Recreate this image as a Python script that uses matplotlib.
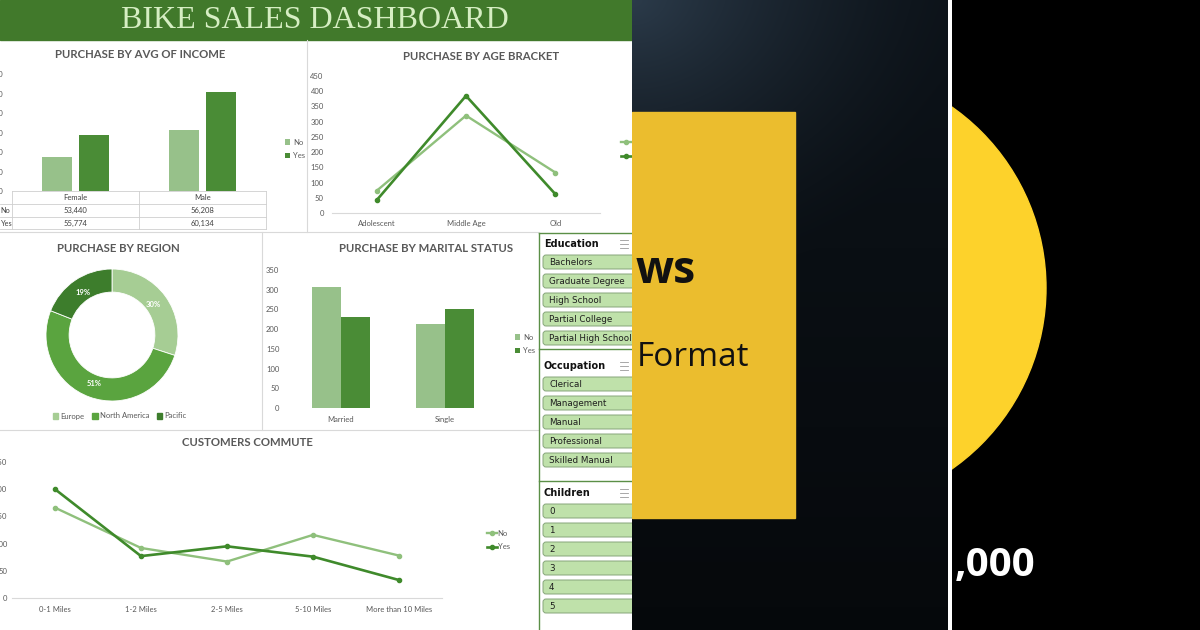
import numpy as np
import matplotlib
matplotlib.use("Agg")
import matplotlib.pyplot as plt
from matplotlib.patches import Rectangle, FancyBboxPatch, Circle, Patch
from matplotlib.ticker import FuncFormatter

plt.rcParams["font.family"] = ["Lato", "DejaVu Sans"]

W, H = 1200, 630

# ---- data ----
genders = ["Female", "Male"]
income_no = [53440, 56208]
income_yes = [55774, 60134]

age_brackets = ["Adolescent", "Middle Age", "Old"]
age_no = [73, 320, 133]
age_yes = [42, 385, 62]

regions = ["Europe", "North America", "Pacific"]
region_share = [30, 51, 19]

marital = ["Married", "Single"]
marital_no = [308, 212]
marital_yes = [232, 252]

commute = ["0-1 Miles", "1-2 Miles", "2-5 Miles", "5-10 Miles", "More than 10 Miles"]
commute_no = [166, 92, 67, 116, 78]
commute_yes = [200, 77, 95, 76, 33]

education = ["Bachelors", "Graduate Degree", "High School", "Partial College", "Partial High School"]
occupation = ["Clerical", "Management", "Manual", "Professional", "Skilled Manual"]
children = ["0", "1", "2", "3", "4", "5"]

BAR_NO, BAR_YES = "#97c18a", "#4a8c36"
LINE_NO, LINE_YES = "#8fc07c", "#3f8a2b"
REGION_COLORS = ["#a6cd94", "#5aa43f", "#3d7d2c"]
GREEN = "#41792b"
GRID = "#d9d9d9"
TXT = "#595959"


def px_axes(x0, y0, x1, y1, **kw):
    return fig.add_axes([x0 / W, 1 - y1 / H, (x1 - x0) / W, (y1 - y0) / H], **kw)


def fpt(x, y):
    return (x / W, 1 - y / H)


def style_axes(ax, baseline=False):
    for s in ax.spines.values():
        s.set_visible(False)
    if baseline:
        ax.spines["bottom"].set_visible(True)
        ax.spines["bottom"].set_color(GRID)
    ax.tick_params(length=0, labelsize=5.5, colors=TXT)
    ax.set_facecolor("none")


def title(x, y, s):
    fig.text(x / W, 1 - y / H, s, ha="center", va="center", fontsize=8.2,
             fontweight="bold", color=TXT)


fig = plt.figure(figsize=(12, 6.3), dpi=100)
fig.patch.set_facecolor("white")

bg = fig.add_axes([0, 0, 1, 1], zorder=0)
bg.set_xlim(0, W)
bg.set_ylim(H, 0)
bg.axis("off")

# title bar
bg.add_patch(Rectangle((0, 0), 632, 40, color=GREEN))
bg.text(315, 21, "BIKE SALES DASHBOARD", ha="center", va="center", fontsize=23,
        family="Liberation Serif", color="#d6eec3")

# panel dividers
for xs, ys in [((307, 307), (40, 232)), ((0, 538), (232, 232)), ((262, 262), (232, 430)),
               ((0, 538), (430, 430))]:
    bg.plot(xs, ys, color=GRID, lw=0.8)

# ---- purchase by avg of income ----
ax1 = px_axes(12, 74, 266, 191, zorder=1)
x = np.arange(len(genders))
ax1.bar(x - 0.145, income_no, 0.23, color=BAR_NO, label="No")
ax1.bar(x + 0.145, income_yes, 0.23, color=BAR_YES, label="Yes")
ax1.set_xlim(-0.5, 1.5)
ax1.set_ylim(50000, 62000)
ax1.set_yticks(range(50000, 62001, 2000))
ax1.yaxis.set_major_formatter(FuncFormatter(lambda v, p: f"{v:,.0f}"))
ax1.set_xticks([])
style_axes(ax1)
ax1.tick_params(axis="y", pad=6)
ax1.legend(loc="center left", bbox_to_anchor=fpt(278, 149), bbox_transform=fig.transFigure,
           frameon=False, fontsize=5.5, handlelength=0.7, handleheight=0.7,
           handletextpad=0.4, labelspacing=0.9, labelcolor=TXT)
title(140, 55, "PURCHASE BY AVG OF INCOME")

# data table under the income chart
bg.plot((12, 266), (191, 191), color="#cfcfcf", lw=0.6)
for yy in (204, 217, 229):
    bg.plot((0, 266), (yy, yy), color="#cfcfcf", lw=0.6)
for xx in (12, 139, 266):
    bg.plot((xx, xx), (191, 229), color="#cfcfcf", lw=0.6)
for i, g in enumerate(genders):
    cx = 12 + 127 * (i + 0.5)
    bg.text(cx, 197.5, g, ha="center", va="center", fontsize=5.5, color="#404040")
    bg.text(cx, 210.5, f"{income_no[i]:,}", ha="center", va="center", fontsize=5.5, color="#404040")
    bg.text(cx, 223, f"{income_yes[i]:,}", ha="center", va="center", fontsize=5.5, color="#404040")
bg.text(0.5, 210.5, "No", ha="left", va="center", fontsize=5.3, color="#404040")
bg.text(0.5, 223, "Yes", ha="left", va="center", fontsize=5.3, color="#404040")

# ---- purchase by age bracket ----
ax2 = px_axes(332, 76, 600, 213, zorder=1)
xa = np.arange(len(age_brackets))
ax2.plot(xa, age_no, color=LINE_NO, lw=1.7, marker="o", ms=3, label="No")
ax2.plot(xa, age_yes, color=LINE_YES, lw=1.9, marker="o", ms=3, label="Yes")
ax2.set_xlim(-0.5, 2.5)
ax2.set_ylim(0, 450)
ax2.set_yticks(range(0, 451, 50))
ax2.set_xticks(xa, age_brackets)
style_axes(ax2, baseline=True)
ax2.tick_params(axis="y", pad=6)
ax2.tick_params(axis="x", pad=5)
ax2.legend(loc="center left", bbox_to_anchor=fpt(614, 149), bbox_transform=fig.transFigure,
           frameon=False, fontsize=5.5, handlelength=1.3, handletextpad=0.3,
           labelspacing=0.9, labelcolor=TXT)
title(481, 56, "PURCHASE BY AGE BRACKET")

# ---- purchase by region (donut) ----
ax3 = px_axes(46, 269, 178, 401, zorder=1)
ax3.pie(region_share, colors=REGION_COLORS, startangle=90, counterclock=False,
        autopct="%d%%", pctdistance=0.78,
        wedgeprops=dict(width=0.35, edgecolor="white", linewidth=0.6),
        textprops=dict(color="white", fontsize=5.5, fontweight="bold"))
ax3.set_xlim(-1.0, 1.0)
ax3.set_ylim(-1.0, 1.0)
ax3.set_aspect("equal")
fig.legend([Patch(color=c) for c in REGION_COLORS], regions, loc="center",
           bbox_to_anchor=fpt(120, 416), ncol=3, frameon=False, fontsize=5.5,
           handlelength=0.7, handleheight=0.7, handletextpad=0.3, columnspacing=1.0,
           labelcolor=TXT)
title(118, 249, "PURCHASE BY REGION")

# ---- purchase by marital status ----
ax4 = px_axes(289, 270, 497, 408, zorder=1)
xm = np.arange(len(marital))
ax4.bar(xm - 0.14, marital_no, 0.28, color=BAR_NO, label="No")
ax4.bar(xm + 0.14, marital_yes, 0.28, color=BAR_YES, label="Yes")
ax4.set_xlim(-0.5, 1.5)
ax4.set_ylim(0, 350)
ax4.set_yticks(range(0, 351, 50))
ax4.set_xticks(xm, marital)
style_axes(ax4)
ax4.tick_params(axis="y", pad=7)
ax4.tick_params(axis="x", pad=6)
ax4.legend(loc="center left", bbox_to_anchor=fpt(508, 344), bbox_transform=fig.transFigure,
           frameon=False, fontsize=5.5, handlelength=0.7, handleheight=0.7,
           handletextpad=0.4, labelspacing=0.9, labelcolor=TXT)
title(426, 249, "PURCHASE BY MARITAL STATUS")

# ---- customers commute ----
ax5 = px_axes(12, 462, 442, 598, zorder=1)
xc = np.arange(len(commute))
ax5.plot(xc, commute_no, color=LINE_NO, lw=1.7, marker="o", ms=3, label="No")
ax5.plot(xc, commute_yes, color=LINE_YES, lw=1.9, marker="o", ms=3, label="Yes")
ax5.set_xlim(-0.5, 4.5)
ax5.set_ylim(0, 250)
ax5.set_yticks(range(0, 251, 50))
ax5.set_xticks(xc, commute)
style_axes(ax5, baseline=True)
ax5.tick_params(axis="y", pad=3.5)
ax5.tick_params(axis="x", pad=6)
ax5.legend(loc="center left", bbox_to_anchor=fpt(480, 540), bbox_transform=fig.transFigure,
           frameon=False, fontsize=5.5, handlelength=1.3, handletextpad=0.1,
           labelspacing=0.9, labelcolor=TXT)
title(247, 443, "CUSTOMERS COMMUTE")

# ---- slicers ----
bg.plot((539, 539), (233, 630), color="#5b8f47", lw=1)
for yy in (233, 349, 481):
    bg.plot((539, 632), (yy, yy), color="#5b8f47", lw=1)


def slicer(header_y, name, items):
    bg.text(544, header_y, name, ha="left", va="center", fontsize=7, fontweight="bold",
            family="DejaVu Sans", color="#111111")
    for k in range(3):
        bg.plot((620, 628), (header_y - 4 + 4 * k, header_y - 4 + 4 * k), color="#9a9a9a", lw=0.6)
    for j, it in enumerate(items):
        top = header_y + 11 + 19 * j
        bg.add_patch(FancyBboxPatch((543, top), 100, 14,
                                    boxstyle="round,pad=0,rounding_size=3",
                                    fc="#bfe1aa", ec="#86a57a", lw=0.7))
        bg.text(549, top + 7.5, it, ha="left", va="center", fontsize=6.3,
                family="DejaVu Sans", color="#1e1e1e")


slicer(244, "Education", education)
slicer(366, "Occupation", occupation)
slicer(493, "Children", children)

# ---- dark promo panel ----
ax6 = px_axes(632, 0, 948, 630, zorder=10)
yy, xx = np.mgrid[0:630, 632:948]
v = np.clip(1 - np.hypot((xx - 632) / 330.0, yy / 300.0), 0, 1) ** 1.4
dark = np.array([0.05, 0.075, 0.10])
light = np.array([0.17, 0.23, 0.29])
img = dark + v[..., None] * (light - dark)
img *= (1 - 0.55 * yy / 630.0)[..., None]
ax6.imshow(img, extent=(632, 948, 630, 0), aspect="auto")
ax6.set_xlim(632, 948)
ax6.set_ylim(630, 0)
ax6.axis("off")
ax6.add_patch(Rectangle((632, 112), 163, 406, color="#ebbd2e"))
ax6.text(636, 283, "ws", ha="left", va="baseline", fontsize=32, fontweight="bold",
         family="Open Sans", color="#111111")
ax6.text(637, 366, "Format", ha="left", va="baseline", fontsize=24,
         family="Open Sans", color="#111111")

# ---- black panel with yellow disc ----
ax7 = px_axes(952, 0, 1200, 630, zorder=10)
ax7.set_facecolor("black")
ax7.set_xlim(952, 1200)
ax7.set_ylim(630, 0)
ax7.set_xticks([])
ax7.set_yticks([])
for s in ax7.spines.values():
    s.set_visible(False)
ax7.add_patch(Circle((825, 288), 221, color="#fdd22b"))
ax7.text(955, 576, ",000", ha="left", va="baseline", fontsize=29, fontweight="bold",
         family="Open Sans", color="white")

fig.savefig("out.png", dpi=100)
